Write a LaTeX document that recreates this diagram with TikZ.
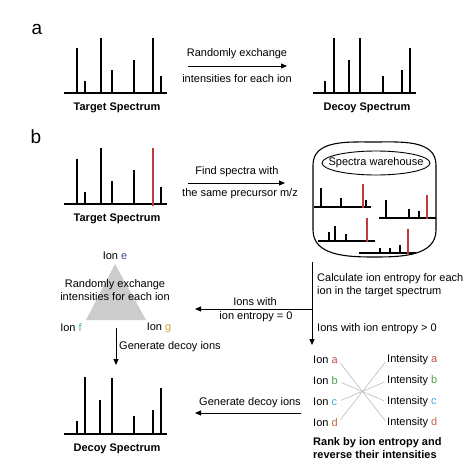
\documentclass[tikz,border=0pt]{standalone}
\usepackage{fontspec}
\setmainfont{Liberation Sans}
\usepackage{tikz}
\usetikzlibrary{arrows.meta}
\definecolor{peakred}{HTML}{C0393B}
\definecolor{cola}{HTML}{C0504D}
\definecolor{colb}{HTML}{4E9F4E}
\definecolor{colc}{HTML}{45A5DC}
\definecolor{cold}{HTML}{C86446}
\definecolor{cole}{HTML}{3A4BA0}
\definecolor{colf}{HTML}{3DB5AE}
\definecolor{colg}{HTML}{D4A23A}

\begin{document}
\begin{tikzpicture}[x=1pt,y=-1pt,
  every node/.style={inner sep=0pt,font=\fontsize{11}{13}\selectfont},
  title/.style={font=\fontsize{11}{13}\selectfont\bfseries},
  peak/.style={line width=1.8pt},
  mini/.style={line width=1.3pt},
  arr/.style={-{Triangle[length=6pt,width=5pt]},line width=0.9pt},
  cross/.style={gray!60,line width=0.5pt,shorten <=4pt,shorten >=3pt}]
\useasboundingbox (0,0) rectangle (474,474);

% panel a
\node[font=\fontsize{19}{19}\selectfont] (lbla) at (37,29) {a};
\draw[peak] (64,93) -- (167,93);
\foreach \x/\h in {77/48,85/81,101/38,112/70,134/60,153/38,161/76}
    \draw[peak] (\x,93) -- (\x,\h);
\node[title] (targeta) at (117,108) {Target Spectrum};

\draw[peak] (313,93) -- (416,93);
\foreach \x/\h in {325/81,334/38,349/60,360/38,383/76,402/70,410/48}
    \draw[peak] (\x,93) -- (\x,\h);
\node[title] (decoya) at (367,108) {Decoy Spectrum};

\coordinate (xa1) at (188,66);
\coordinate (xa2) at (287,66);
\path[arr] (xa1) edge (xa2);
\node (xatop) at (237,54) {Randomly exchange};
\node (xabot) at (237,79) {intensities for each ion};

% panel b
\node[font=\fontsize{19}{19}\selectfont] (lblb) at (36,137) {b};
\draw[peak] (64,204) -- (167,204);
\foreach \x/\h in {77/159,85/192,101/148,112/181,134/170,161/187}
    \draw[peak] (\x,204) -- (\x,\h);
\draw[line width=1.5pt,peakred] (153,206) -- (153,148);
\node[title] (targetb) at (117,219) {Target Spectrum};

\coordinate (fa1) at (188,183);
\coordinate (fa2) at (285,183);
\path[arr] (fa1) edge (fa2);
\node (fatop) at (237,172) {Find spectra with};
\node (fabot) at (240,194) {the same precursor m/z};

% spectra warehouse
\draw[line width=1.1pt] (313,230) -- (313,165) to[out=90,in=180] (374,142)
    to[out=0,in=90] (436,165) -- (436,230) to[out=-90,in=0] (374,257)
    to[out=180,in=-90] cycle;
\node (warehouse) at (376,163) {Spectra warehouse};
\draw[line width=0.9pt] (warehouse.center) ellipse [x radius=54, y radius=12];
\foreach \y/\l/\r in {207/314/371,218/379/436,241/318/375,253/359/416}
    \draw[mini] (\l,\y) -- (\r,\y);
\foreach \x/\y/\h in {321/207/188,341/207/198,366/207/200,
                      386/218/200,409/218/209,419/218/211,
                      329/241/232,335/241/226,346/241/234,
                      380/253/248,390/253/248,400/253/245}
    \draw[mini] (\x,\y) -- (\x,\h);
\foreach \x/\y/\h in {363/208/184,427/219/195,367/242/218,408/254/229}
    \draw[line width=1.2pt,peakred] (\x,\y) -- (\x,\h);

% entropy split
\coordinate (cylout) at (312,262);
\coordinate (split) at (312,309);
\coordinate (rankin) at (312,345);
\coordinate (triin) at (195,309);
\draw[line width=0.9pt] (cylout) -- (split);
\path[arr] (split) edge (rankin);
\path[arr] (split) edge (triin);
\node[anchor=west,align=left] (calc) at (317,285.5) {Calculate ion entropy for each\\ion in the target spectrum};
\node[anchor=west] (pos) at (317,329) {Ions with ion entropy > 0};
\node (zerotop) at (255,302) {Ions with};
\node (zerobot) at (256,317) {ion entropy = 0};

% triangle
\fill[gray!40] (115,264) -- (146,320) -- (86,320) -- cycle;
\node (ione) at (115,256) {Ion \textcolor{cole}{e}};
\node (ionf) at (71,328) {Ion \textcolor{colf}{f}};
\node (iong) at (159,328) {Ion \textcolor{colg}{g}};
\node[align=center] (tritext) at (115,290.5) {Randomly exchange\\intensities for each ion};
\coordinate (gen1) at (116,328);
\coordinate (gen2) at (116,365);
\path[arr] (gen1) edge (gen2);
\node[anchor=west] (genlbl) at (119,347) {Generate decoy ions};

% ranking
\node[anchor=west] (iona) at (313,360) {Ion \textcolor{cola}{a}};
\node[anchor=west] (ionb) at (313,381) {Ion \textcolor{colb}{b}};
\node[anchor=west] (ionc) at (313,402) {Ion \textcolor{colc}{c}};
\node[anchor=west] (iond) at (313,423) {Ion \textcolor{cold}{d}};
\node[anchor=west] (inta) at (387,360) {Intensity \textcolor{cola}{a}};
\node[anchor=west] (intb) at (387,381) {Intensity \textcolor{colb}{b}};
\node[anchor=west] (intc) at (387,402) {Intensity \textcolor{colc}{c}};
\node[anchor=west] (intd) at (387,423) {Intensity \textcolor{cold}{d}};
\draw[cross] (iona.east) -- (intd.west);
\draw[cross] (ionb.east) -- (intc.west);
\draw[cross] (ionc.east) -- (intb.west);
\draw[cross] (iond.east) -- (inta.west);
\node[title,anchor=west,align=left] (rank) at (313,448.5) {Rank by ion entropy and\\reverse their intensities};

\coordinate (back1) at (301,413);
\coordinate (back2) at (195,413);
\path[arr] (back1) edge (back2);
\node (backlbl) at (250,403) {Generate decoy ions};

\draw[peak] (64,434) -- (167,434);
\foreach \x/\h in {77/421,85/377,100/400,112/378,134/416,153/410,161/388}
    \draw[peak] (\x,434) -- (\x,\h);
\node[title] (decoyb) at (117,449) {Decoy Spectrum};
\end{tikzpicture}
\end{document}
